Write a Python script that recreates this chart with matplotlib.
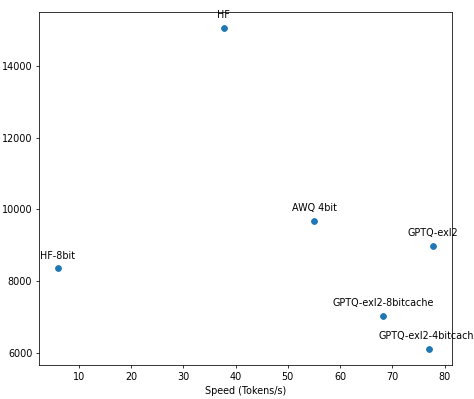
import matplotlib
matplotlib.use("Agg")
import matplotlib.pyplot as plt

# Speed vs memory for different quantisation setups
methods = ["HF", "HF-8bit", "AWQ 4bit", "GPTQ-exl2",
           "GPTQ-exl2-8bitcache", "GPTQ-exl2-4bitcache"]
speed = [37.7, 6.0, 55.0, 77.8, 68.2, 77.0]
memory = [15050, 8360, 9680, 8980, 7030, 6110]

fig = plt.figure(figsize=(474 / 69, 399 / 69), dpi=69)
ax = fig.add_axes([0.0823, 0.0852, 0.8713, 0.8848])

ax.scatter(speed, memory)

for name, x, y in zip(methods, speed, memory):
    ax.annotate(name, (x, y), textcoords="offset points",
                xytext=(0, 10), ha="center")

ax.set_xlabel("Speed (Tokens/s)")

fig.savefig("out.png", dpi=69)
